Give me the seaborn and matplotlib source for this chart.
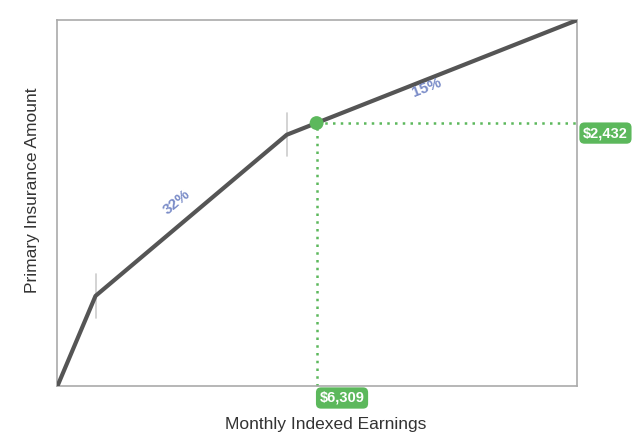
import matplotlib
matplotlib.use("Agg")
import matplotlib.pyplot as plt
import seaborn as sns
import pandas as pd

# Data (2019 PIA formula)
earnings = [0, 926, 5583, 12650]
pia = [0, 833, 2324, 3384]
bend_points = [926, 5583]
bend_pia = [833, 2324]
rate_labels = ["32%", "15%"]
rate_label_x = [2900, 9000]
rate_label_y = [1700, 2760]
rate_angles = [40, 21.6]
point_x = 6309
point_y = 2432
point_x_label = "$6,309"
point_y_label = "$2,432"

sns.set_style("white")
plt.rcParams['font.family'] = ['Liberation Sans', 'DejaVu Sans']

fig = plt.figure(figsize=(6.4, 4.48), dpi=100)
ax = fig.add_axes([0.0898, 0.1384, 0.9016 - 0.0898, 0.955 - 0.1384])

df = pd.DataFrame({"x": earnings, "y": pia})
sns.lineplot(data=df, x="x", y="y", ax=ax, color="#555555", linewidth=3,
             solid_joinstyle="round", zorder=3)

ax.set_xlim(0, earnings[-1])
ax.set_ylim(0, pia[-1])

# bend point markers
for bx, by in zip(bend_points, bend_pia):
    ax.plot([bx, bx], [by - 200, by + 200], color="#cccccc", linewidth=1.2, zorder=2)

# dotted guides
green = "#5cb85c"
dots = (0, (1.0, 2.1))
ax.plot([point_x, point_x], [0, point_y], color=green, linestyle=dots,
        linewidth=1.8, zorder=2, clip_on=False)
ax.plot([point_x, earnings[-1]], [point_y, point_y], color=green,
        linestyle=dots, linewidth=1.8, zorder=2, clip_on=False)
sns.scatterplot(x=[point_x], y=[point_y], ax=ax, color=green, s=100,
                edgecolor="none", zorder=5, clip_on=False)

# rate labels
for lab, lx, ly, ang in zip(rate_labels, rate_label_x, rate_label_y, rate_angles):
    ax.text(lx, ly, lab, rotation=ang, rotation_mode="anchor", ha="center",
            va="center", color="#7a8cc8", fontsize=11, fontweight="bold")

# value badges
badge = dict(boxstyle="round,pad=0.25,rounding_size=0.35", fc=green, ec="none")
ax.annotate(point_x_label, xy=(point_x, 0), xytext=(3, -5),
            textcoords="offset pixels", ha="left", va="top", color="white",
            fontsize=10.5, fontweight="bold", annotation_clip=False, bbox=badge)
ax.annotate(point_y_label, xy=(earnings[-1], point_y), xytext=(6, -3),
            textcoords="offset pixels", ha="left", va="top", color="white",
            fontsize=10.5, fontweight="bold", annotation_clip=False, bbox=badge)

ax.set_xticks([])
ax.set_yticks([])
for s in ax.spines.values():
    s.set_visible(True)
    s.set_color("#aaaaaa")
    s.set_linewidth(1.2)

ax.set_xlabel("Monthly Indexed Earnings", fontsize=12.5, color="#333333")
ax.set_ylabel("Primary Insurance Amount", fontsize=12.5, color="#333333")
ax.xaxis.set_label_coords(0.517, -0.085)
ax.yaxis.set_label_coords(-0.034, 0.535)

fig.savefig("out.png", dpi=100, facecolor="white")
